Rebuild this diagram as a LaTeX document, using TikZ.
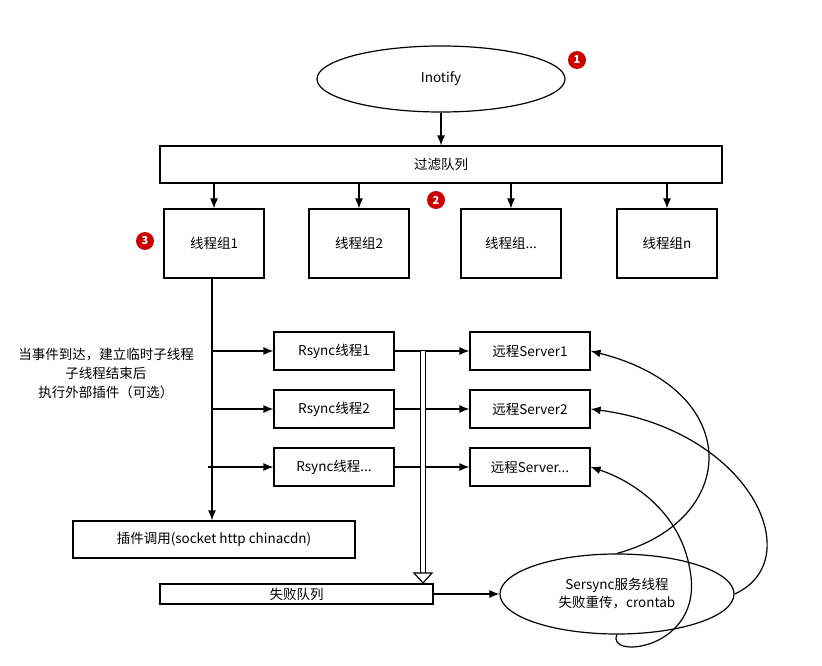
\documentclass[tikz,border=0pt]{standalone}
\usepackage{fontspec}
\setmainfont{Noto Sans CJK SC}
\usetikzlibrary{shapes.geometric, arrows.meta}
\begin{document}
\begin{tikzpicture}[x=1pt,y=-1pt,
  box/.style={draw, line width=1.2pt, inner sep=0pt, font=\fontsize{13.5}{15}\selectfont},
  oval/.style={draw, line width=1.2pt, ellipse, inner sep=0pt, font=\fontsize{13.5}{18}\selectfont, align=center},
  arr/.style={line width=1.2pt, -{Latex[length=10pt,width=8pt]}},
  badge/.style={circle, fill=red!80!black, text=white, inner sep=0pt, minimum size=18pt, font=\bfseries\fontsize{11}{11}\selectfont},
  lbl/.style={font=\fontsize{13.5}{19}\selectfont, align=center}]
\useasboundingbox (0,0) rectangle (822,666);

\node[oval, minimum width=248pt, minimum height=66pt] (ino) at (441,79) {Inotify};
\node[box, minimum width=562pt, minimum height=37pt] (queue) at (441,164.5) {过滤队列};

\node[box, minimum width=100pt, minimum height=69pt] (g1) at (214,243.5) {线程组1};
\node[box, minimum width=100pt, minimum height=69pt] (g2) at (359,243.5) {线程组2};
\node[box, minimum width=100pt, minimum height=69pt] (g3) at (511,243.5) {线程组...};
\node[box, minimum width=100pt, minimum height=69pt] (g4) at (667,243.5) {线程组n};

\node[badge] (b1) at (577,60) {1};
\node[badge] (b2) at (436,200) {2};
\node[badge] (b3) at (145,241) {3};

\node[box, minimum width=120pt, minimum height=38pt] (r1) at (334,351) {Rsync线程1};
\node[box, minimum width=120pt, minimum height=38pt] (r2) at (334,409) {Rsync线程2};
\node[box, minimum width=120pt, minimum height=38pt] (r3) at (334,467) {Rsync线程...};

\node[box, minimum width=120pt, minimum height=38pt] (s1) at (530,351) {远程Server1};
\node[box, minimum width=120pt, minimum height=38pt] (s2) at (530,409) {远程Server2};
\node[box, minimum width=120pt, minimum height=38pt] (s3) at (530,467) {远程Server...};

\node[box, minimum width=282pt, minimum height=37pt] (plug) at (214,539.5) {插件调用(socket http chinacdn)};
\node[box, minimum width=273pt, minimum height=20pt] (fail) at (296.5,594) {失败队列};
\node[oval, minimum width=234pt, minimum height=80pt] (ser) at (617,594) {Sersync服务线程\\失败重传，crontab};

\node[lbl] (txt) at (106,373) {当事件到达，建立临时子线程\\子线程结束后\\执行外部插件（可选）};

\draw[arr] (ino) -- (queue);
\foreach \g in {g1,g2,g3,g4} \draw[arr] (queue.south -| \g) -- (\g);

\draw[arr] (g1.south -| 212,0) -- (plug.north -| 212,0);
\draw[arr] (212,0 |- r1) -- (r1);
\draw[arr] (212,0 |- r2) -- (r2);
\draw[arr] (208,0 |- r3) -- (r3);
\foreach \i in {1,2,3} \draw[arr] (r\i) -- (s\i);

% hollow arrow into failure queue
\coordinate (h0) at (423,351);
\coordinate (h1) at (423,573);
\draw[line width=1.2pt, double=white, double distance=4pt] (h0) -- (h1);
\draw[line width=1.2pt, fill=white] (414,573) -- (432,573) -- (423,583) -- cycle;

\draw[arr] (fail) -- (ser);

\draw[arr] (ser.north) .. controls (740,520) and (745,390) .. (s1.east);
\draw[arr] (ser.east) .. controls (810,560) and (750,430) .. (s2.east);
\draw[arr] (ser.south) .. controls (605,660) and (705,650) .. (690,570) .. controls (680,510) and (630,480) .. (s3.east);
\end{tikzpicture}
\end{document}
